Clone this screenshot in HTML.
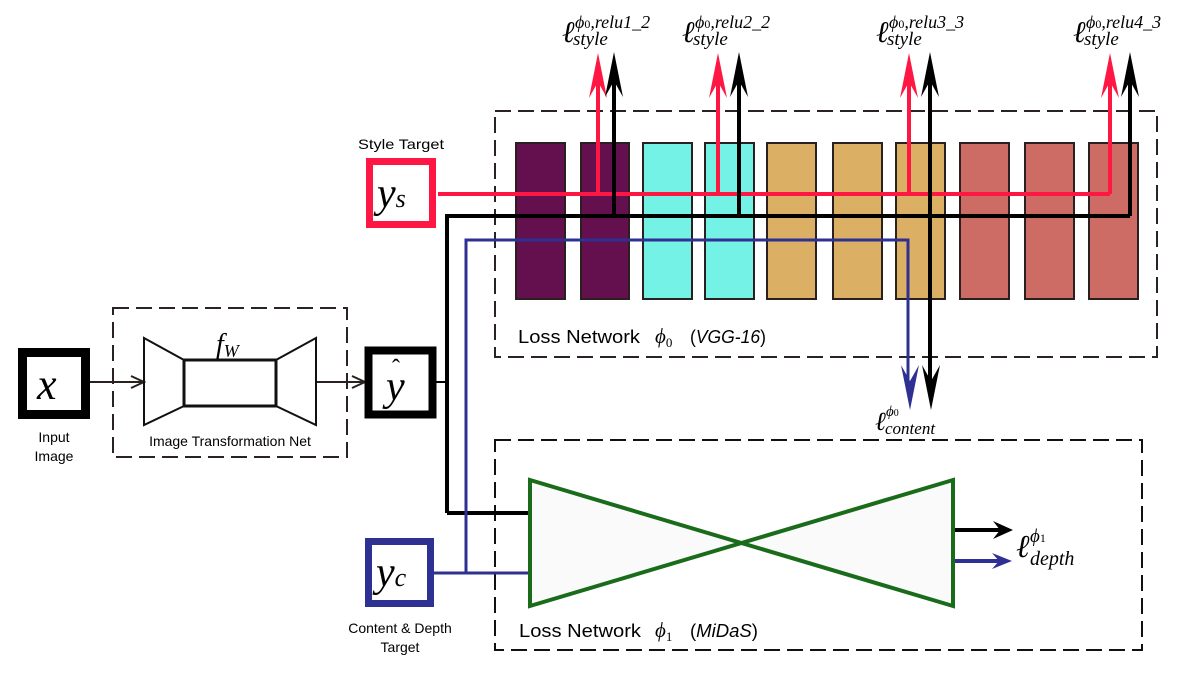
<!DOCTYPE html>
<html><head><meta charset="utf-8"><style>
body{margin:0;background:#fff;}
svg{display:block;}
.m{font-family:"Liberation Serif",serif;font-style:italic;}
.s{font-family:"Liberation Sans",sans-serif;}
</style></head><body>
<svg width="1182" height="677" viewBox="0 0 1182 677" xmlns="http://www.w3.org/2000/svg">
<rect x="495" y="111" width="662" height="246" fill="none" stroke="#2b2323" stroke-width="2" stroke-dasharray="16,7"/>
<rect x="113" y="308" width="234" height="149" fill="none" stroke="#2b2323" stroke-width="2" stroke-dasharray="16,7"/>
<rect x="495" y="440" width="647" height="210" fill="none" stroke="#111" stroke-width="2" stroke-dasharray="16,7"/>
<g stroke="#2b2020" stroke-width="2">
<rect x="516" y="143" width="49" height="156" fill="#64104f"/>
<rect x="581" y="143" width="48" height="156" fill="#64104f"/>
<rect x="643" y="143" width="49" height="156" fill="#74f2e6"/>
<rect x="705" y="143" width="49" height="156" fill="#74f2e6"/>
<rect x="767" y="143" width="49" height="156" fill="#dbb064"/>
<rect x="833" y="143" width="49" height="156" fill="#dbb064"/>
<rect x="896" y="143" width="49" height="156" fill="#dbb064"/>
<rect x="960" y="143" width="49" height="156" fill="#cd6b65"/>
<rect x="1025" y="143" width="49" height="156" fill="#cd6b65"/>
<rect x="1089" y="143" width="49" height="156" fill="#cd6b65"/>
</g>
<text x="518" y="343" class="s" font-size="18" textLength="122" lengthAdjust="spacingAndGlyphs">Loss Network</text>
<text x="655" y="343" class="m" font-size="21">ϕ<tspan font-size="13" dy="4" font-style="normal">0</tspan></text>
<text x="690" y="343" class="s" font-size="18" textLength="76" lengthAdjust="spacingAndGlyphs">(<tspan font-style="italic">VGG-16</tspan>)</text>
<g fill="none" stroke-linejoin="miter">
<path d="M447 513 V216 H1130" stroke="#000" stroke-width="4"/>
<path d="M447 513 H530" stroke="#000" stroke-width="4"/>
<path d="M436 382 H447" stroke="#000" stroke-width="2"/>
<path d="M466 573 V240 H908 V390" stroke="#2e3192" stroke-width="3"/>
<path d="M434 573 H530" stroke="#2e3192" stroke-width="3"/>
<path d="M438 194 H1110" stroke="#ff1744" stroke-width="4"/>
<path d="M598 194 V80 M718 194 V80 M909 194 V80 M1110 194 V80" stroke="#ff1744" stroke-width="4"/>
<path d="M614 216 V80 M739 216 V80 M930 216 V80 M1130 216 V80 M930 216 V390" stroke="#000" stroke-width="4"/>
<path d="M953 530 H1000" stroke="#000" stroke-width="4"/>
<path d="M953 561 H1000" stroke="#2e3192" stroke-width="4"/>
</g>
<g fill="#ff1744">
<path d="M598 53 L589 98 L598 82 L607 98Z"/><path d="M718 53 L709 98 L718 82 L727 98Z"/>
<path d="M909 53 L900 98 L909 82 L918 98Z"/><path d="M1110 53 L1101 98 L1110 82 L1119 98Z"/>
</g>
<g fill="#000">
<path d="M614 52 L605 97 L614 81 L623 97Z"/><path d="M739 52 L730 97 L739 81 L748 97Z"/>
<path d="M930 52 L921 97 L930 81 L939 97Z"/><path d="M1130 52 L1121 97 L1130 81 L1139 97Z"/>
<path d="M931 410 L922 365 L931 381 L940 365Z"/>
<path d="M1013 530 L993 521 L1000 530 L993 539Z"/>
</g>
<path d="M910 410 L901 365 L910 381 L919 365Z" fill="#2e3192"/>
<path d="M1012 561 L992 553 L999 561 L992 569Z" fill="#2e3192"/>
<g class="m">
<text x="562" y="42" font-size="30">ℓ</text><text x="575" y="28" font-size="18">ϕ<tspan font-size="12" font-style="normal">0</tspan>,relu1_2</text><text x="573" y="45" font-size="19">style</text>
<text x="682" y="42" font-size="30">ℓ</text><text x="695" y="28" font-size="18">ϕ<tspan font-size="12" font-style="normal">0</tspan>,relu2_2</text><text x="693" y="45" font-size="19">style</text>
<text x="876" y="42" font-size="30">ℓ</text><text x="889" y="28" font-size="18">ϕ<tspan font-size="12" font-style="normal">0</tspan>,relu3_3</text><text x="887" y="45" font-size="19">style</text>
<text x="1073" y="42" font-size="30">ℓ</text><text x="1086" y="28" font-size="18">ϕ<tspan font-size="12" font-style="normal">0</tspan>,relu4_3</text><text x="1084" y="45" font-size="19">style</text>
<text x="875" y="430" font-size="26">ℓ</text><text x="886" y="416" font-size="15">ϕ<tspan font-size="10" font-style="normal">0</tspan></text><text x="885" y="434" font-size="17">content</text>
<text x="1016" y="557" font-size="32">ℓ</text><text x="1030" y="542" font-size="19">ϕ<tspan font-size="12" font-style="normal">1</tspan></text><text x="1030" y="565" font-size="20">depth</text>
</g>
<text x="358" y="149" class="s" font-size="14" textLength="86" lengthAdjust="spacingAndGlyphs">Style Target</text>
<rect x="369.5" y="161.5" width="63" height="63" fill="#fff" stroke="#ff1744" stroke-width="7"/>
<text x="377" y="207" class="m" font-size="42">y<tspan font-size="26">s</tspan></text>
<rect x="368.5" y="541.5" width="62" height="62" fill="#fff" stroke="#2e3192" stroke-width="7"/>
<text x="376" y="586" class="m" font-size="42">y<tspan font-size="26">c</tspan></text>
<text x="400" y="633" class="s" font-size="14" text-anchor="middle">Content &amp; Depth</text>
<text x="400" y="652" class="s" font-size="14" text-anchor="middle">Target</text>
<rect x="22.5" y="352.5" width="63" height="62" fill="#fff" stroke="#000" stroke-width="9"/>
<text x="37" y="399" class="m" font-size="44">x</text>
<text x="54" y="442" class="s" font-size="14" text-anchor="middle">Input</text>
<text x="54" y="461" class="s" font-size="14" text-anchor="middle">Image</text>
<g fill="none" stroke="#111">
<path d="M90 382 H144 M316 382 H365" stroke="#2b2020" stroke-width="2"/>
<path d="M131 376 L144 382 L131 388 M352 376 L365 382 L352 388" stroke="#2b2020" stroke-width="2"/>
<path d="M144 338 L184 360 V406 L144 425 Z M316 338 L276 360 V406 L316 425 Z" stroke-width="2"/>
<rect x="184" y="360" width="92" height="46" stroke-width="3"/>
</g>
<text x="216" y="353" class="m" font-size="28">f<tspan font-size="18" dy="4">W</tspan></text>
<text x="230" y="446" class="s" font-size="14" text-anchor="middle">Image Transformation Net</text>
<rect x="368.5" y="350.5" width="64" height="64" fill="#fff" stroke="#000" stroke-width="8"/>
<text x="386" y="400" class="m" font-size="42">y</text>
<text x="392" y="376" font-family="Liberation Serif" font-size="24">ˆ</text>
<path d="M530 480 L953 606 V480 L530 606 Z" fill="#fafafa" stroke="#1a6b1a" stroke-width="4"/>
<text x="519" y="637" class="s" font-size="18" textLength="122" lengthAdjust="spacingAndGlyphs">Loss Network</text>
<text x="655" y="637" class="m" font-size="21">ϕ<tspan font-size="13" dy="4" font-style="normal">1</tspan></text>
<text x="690" y="637" class="s" font-size="18" textLength="68" lengthAdjust="spacingAndGlyphs">(<tspan font-style="italic">MiDaS</tspan>)</text>
</svg>
</body></html>
